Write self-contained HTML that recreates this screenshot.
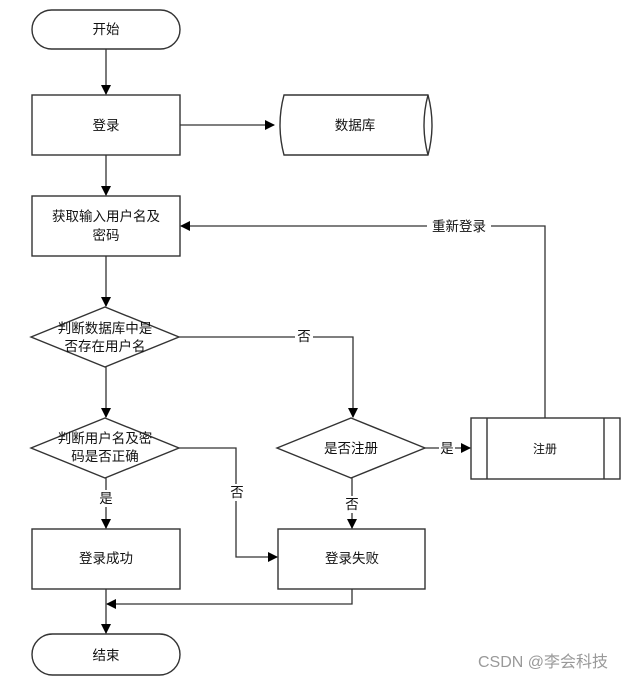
<!DOCTYPE html>
<html><head><meta charset="utf-8"><style>
html,body{margin:0;padding:0;background:#fff;}
svg{display:block;}
text{font-family:"Liberation Sans","Noto Sans CJK SC",sans-serif;font-size:13.5px;fill:#111;}
</style></head><body>
<svg width="630" height="679" viewBox="0 0 630 679" xmlns="http://www.w3.org/2000/svg">
<defs><marker id="a" markerWidth="10" markerHeight="10" refX="9" refY="5" orient="auto" markerUnits="userSpaceOnUse"><path d="M0,0 L10,5 L0,10 Z" fill="#000"/></marker></defs>
<g fill="none" stroke="#333" stroke-width="1.4">
<rect x="32" y="10" width="148" height="39" rx="19.5" fill="#fff"/>
<rect x="32" y="95" width="148" height="60" fill="#fff"/>
<path d="M284,95 L428,95 Q436,125 428,155 L284,155 Q276,125 284,95 Z" fill="#fff"/>
<path d="M428,95 Q420,125 428,155"/>
<rect x="32" y="196" width="148" height="60" fill="#fff"/>
<path d="M31,337 L105,307 L179,337 L105,367 Z" fill="#fff"/>
<path d="M31,448 L105,418 L179,448 L105,478 Z" fill="#fff"/>
<path d="M277,448 L351,418 L425,448 L351,478 Z" fill="#fff"/>
<rect x="471" y="418" width="149" height="61" fill="#fff"/>
<line x1="487" y1="418" x2="487" y2="479"/><line x1="604" y1="418" x2="604" y2="479"/>
<rect x="32" y="529" width="148" height="60" fill="#fff"/>
<rect x="278" y="529" width="147" height="60" fill="#fff"/>
<rect x="32" y="634" width="148" height="41" rx="20.5" fill="#fff"/>
</g>
<g fill="none" stroke="#333" stroke-width="1.3" marker-end="url(#a)">
<line x1="106" y1="49" x2="106" y2="94"/>
<line x1="180" y1="125" x2="274" y2="125"/>
<line x1="106" y1="155" x2="106" y2="195"/>
<line x1="106" y1="256" x2="106" y2="306"/>
<line x1="106" y1="367" x2="106" y2="417"/>
<line x1="106" y1="478" x2="106" y2="528"/>
<polyline points="179,337 353,337 353,417"/>
<line x1="425" y1="448" x2="470" y2="448"/>
<polyline points="545,418 545,226 181,226"/>
<polyline points="179,448 236,448 236,557 277,557"/>
<line x1="352" y1="478" x2="352" y2="528"/>
<polyline points="352,589 352,604 107,604"/>
<line x1="106" y1="589" x2="106" y2="633"/>
</g>
<g fill="#fff">
<rect x="295" y="328" width="18" height="17"/>
<rect x="427" y="217" width="64" height="17"/>
<rect x="439" y="440" width="16" height="17"/>
<rect x="228" y="484" width="18" height="17"/>
<rect x="97" y="490" width="18" height="17"/>
<rect x="343" y="496" width="18" height="17"/>
</g>
<g text-anchor="middle">
<text x="106" y="34">开始</text>
<text x="106" y="130">登录</text>
<text x="355" y="130">数据库</text>
<text x="106" y="221">获取输入用户名及</text>
<text x="106" y="240">密码</text>
<text x="105" y="333">判断数据库中是</text>
<text x="105" y="351">否存在用户名</text>
<text x="105" y="443">判断用户名及密</text>
<text x="105" y="461">码是否正确</text>
<text x="351" y="453">是否注册</text>
<text x="545" y="453" style="font-size:12px">注册</text>
<text x="106" y="563">登录成功</text>
<text x="352" y="563">登录失败</text>
<text x="106" y="660">结束</text>
<text x="304" y="341">否</text>
<text x="459" y="231">重新登录</text>
<text x="447" y="453">是</text>
<text x="237" y="497">否</text>
<text x="106" y="503">是</text>
<text x="352" y="509">否</text>
</g>
<text x="478" y="667" style="font-size:16px;fill:#999">CSDN @李会科技</text>
</svg>
</body></html>
